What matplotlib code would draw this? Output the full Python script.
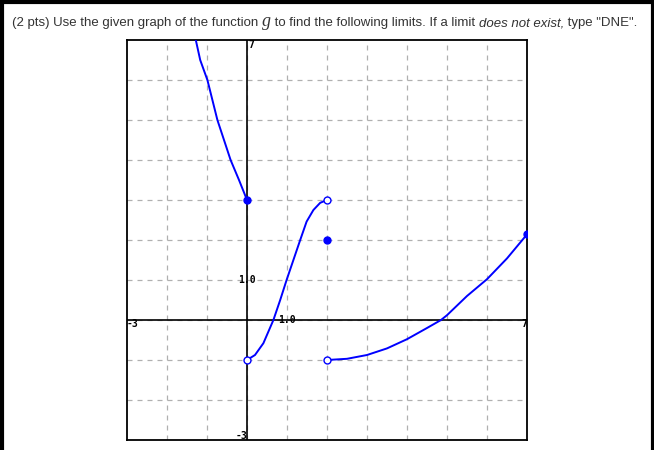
import matplotlib
matplotlib.use("Agg")
import matplotlib.pyplot as plt

# pieces of g
left_x = [-1.28, -1.17, -0.99, -0.74, -0.41, -0.2, 0.0]
left_y = [7.0, 6.5, 6.0, 5.0, 4.0, 3.5, 3.0]
mid_x = [0.0, 0.2, 0.41, 0.66, 0.83, 0.99, 1.16, 1.33, 1.49, 1.66, 1.83, 2.0]
mid_y = [-1.0, -0.875, -0.58, 0.0, 0.5, 1.0, 1.5, 2.0, 2.46, 2.75, 2.93, 3.0]
right_x = [2.0, 2.5, 3.0, 3.5, 4.0, 4.5, 4.85, 5.0, 5.5, 6.0, 6.5, 7.0]
right_y = [-1.0, -0.97, -0.875, -0.71, -0.48, -0.2, 0.0, 0.12, 0.6, 1.02, 1.54, 2.14]
filled_x = [0, 2]
filled_y = [3, 2]
open_x = [0, 2, 2]
open_y = [-1, 3, -1]

fig = plt.figure(figsize=(6.54, 4.5), dpi=100)
ax = fig.add_axes([127 / 654, 10 / 450, 400 / 654, 400 / 450])
ax.set_xlim(-3, 7)
ax.set_ylim(-3, 7)

for v in range(-2, 7):
    ax.axvline(v, color="#b0b0b0", lw=0.9, ls=(0, (4, 4)), zorder=1)
for v in range(-2, 7):
    ax.axhline(v, color="#b0b0b0", lw=0.9, ls=(0, (4, 4)), zorder=1)
ax.axvline(0, color="black", lw=1.2, zorder=2)
ax.axhline(0, color="black", lw=1.2, zorder=2)

blue = "#0000ff"
ax.plot(left_x, left_y, color=blue, lw=1.4, zorder=3)
ax.plot(mid_x, mid_y, color=blue, lw=1.4, zorder=3)
ax.plot(right_x, right_y, color=blue, lw=1.4, zorder=3)
ax.plot(right_x[-1:], right_y[-1:], "o", color=blue, ms=5, zorder=4)
ax.plot(filled_x, filled_y, "o", color=blue, ms=5, zorder=4)
ax.plot(open_x, open_y, "o", mfc="white", mec=blue, mew=1, ms=5, zorder=4)

for s in ax.spines.values():
    s.set_linewidth(1.3)
ax.set_xticks([])
ax.set_yticks([])

lab = dict(family="DejaVu Sans Mono", fontweight="bold", fontsize=7, color="black", zorder=5)
ax.text(0, 1, "1.0", ha="center", va="center", **lab)
ax.text(1, 0, "1.0", ha="center", va="center", **lab)
ax.text(-3, -0.1, "-3", ha="left", va="center", **lab)
ax.text(7, -0.1, "7", ha="right", va="center", **lab)
ax.text(0, -2.9, "-3", ha="right", va="center", **lab)
ax.text(0.03, 6.88, "7", ha="left", va="center", **lab)

# heading with mixed styles, placed piece by piece
pieces = [
    ("(2 pts) Use the given graph of the function ", dict(family="Liberation Sans", fontsize=9.5)),
    ("g", dict(family="Liberation Serif", style="italic", fontsize=13)),
    (" to find the following limits. If a limit ", dict(family="Liberation Sans", fontsize=9.5)),
    ("does not exist,", dict(family="Liberation Sans", style="italic", fontsize=9.5)),
    (' type "DNE".', dict(family="Liberation Sans", fontsize=9.5)),
]
renderer = fig.canvas.get_renderer()
x = 12 / 654
for s, kw in pieces:
    t = fig.text(x, 1 - 26 / 450, s, va="baseline", color="#333333", **kw)
    bb = t.get_window_extent(renderer)
    x = bb.x1 / 654

# window border
fig.add_artist(plt.Line2D([1.5 / 654, 1.5 / 654], [0, 1], color="black", lw=3, transform=fig.transFigure))
fig.add_artist(plt.Line2D([652.5 / 654, 652.5 / 654], [0, 1], color="black", lw=3, transform=fig.transFigure))
fig.add_artist(plt.Line2D([0, 1], [1 - 1.5 / 450, 1 - 1.5 / 450], color="black", lw=3, transform=fig.transFigure))

fig.savefig("out.png", dpi=100)
